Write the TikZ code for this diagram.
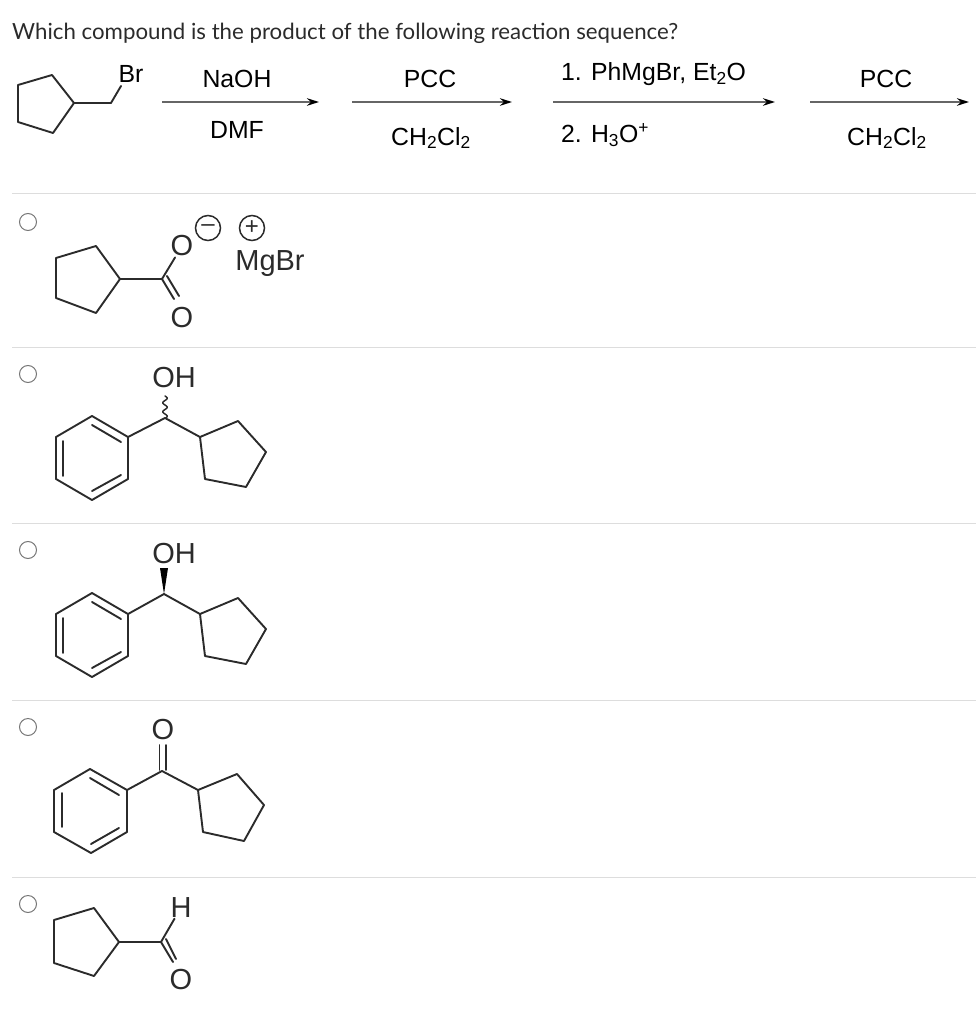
\documentclass[tikz,border=0pt]{standalone}
\usepackage{fontspec}
\usetikzlibrary{arrows.meta}
\setmainfont{Liberation Sans}
\newfontfamily\latofont{Lato}
\definecolor{inkc}{HTML}{2B2B2B}
\definecolor{rulec}{HTML}{DDDDDD}
\definecolor{radioc}{HTML}{777777}
\definecolor{arrowc}{HTML}{666666}
\tikzset{
	bond/.style={draw=inkc,line width=1.9pt,line join=round,line cap=round},
	rxn/.style={draw=arrowc,line width=2pt,-{Stealth[length=12pt,width=7.5pt,color=black]}},
	sepline/.style={draw=rulec,line width=1pt},
	radio/.style={circle,draw=radioc,line width=1pt,minimum size=17pt,inner sep=0pt,fill=white},
	reag/.style={inner sep=0pt,text=black,font=\fontsize{24.8}{28}\selectfont},
	atom/.style={inner sep=1pt,text=inkc,font=\fontsize{29}{32}\selectfont},
	charge/.style={circle,draw=inkc,line width=1.5pt,minimum size=25pt,inner sep=0pt,text=inkc,font=\fontsize{24}{26}\selectfont}
}
\begin{document}
\begin{tikzpicture}[x=1pt,y=-1pt,>=stealth]
	\useasboundingbox (0,0) rectangle (978,1024);
	\node[anchor=west,inner sep=0pt,text=inkc,font=\latofont\fontsize{22.25}{26}\selectfont] (question) at (12,33) {Which compound is the product of the following reaction sequence?};
	% separators and radio buttons
	\foreach \n/\y in {1/194,2/347,3/523,4/700,5/877}{
		\coordinate (sl\n) at (12,\y);
		\coordinate (sr\n) at (976,\y);
		\draw[sepline] (sl\n)--(sr\n);
	}
	\foreach \n/\y in {1/222,2/374,3/550,4/727,5/904}
		\node[radio] (radio\n) at (28,\y) {};
	% starting material
	\draw[bond] (52,75)--(18,85)--(18,122)--(53,133)--(74,103)--cycle;
	\node[reag] (br) at (131,74) {Br};
	\draw[bond] (74,103)--(111,103)--(121,86);
	% reaction arrows
	\coordinate (a1) at (162,102); \coordinate (b1) at (319,102);
	\coordinate (a2) at (352,102); \coordinate (b2) at (512,102);
	\coordinate (a3) at (553,102); \coordinate (b3) at (775,102);
	\coordinate (a4) at (810,102); \coordinate (b4) at (969,102);
	\foreach \n in {1,2,3,4}
		\draw[rxn] (a\n)--(b\n);
	\node[reag] (naoh) at (237,79) {NaOH};
	\node[reag] (dmf) at (237,130) {DMF};
	\node[reag] (pcca) at (430,79) {PCC};
	\node[reag] (cla) at (431,138) {CH\textsubscript{2}Cl\textsubscript{2}};
	\node[reag,anchor=west] (grig) at (561,74) {1. PhMgBr, Et\textsubscript{2}O};
	\node[reag,anchor=west] (acid) at (561,135) {2. H\textsubscript{3}O\textsuperscript{+}};
	\node[reag] (pccb) at (886,79) {PCC};
	\node[reag] (clb) at (887,138) {CH\textsubscript{2}Cl\textsubscript{2}};
	% option 1
	\draw[bond] (96,246)--(56,258)--(56,298)--(96,313)--(120,279)--cycle;
	\node[atom] (o1a) at (182,246) {O};
	\node[atom] (o1b) at (182,318) {O};
	\node[charge] (minus) at (208,228) {–};
	\node[charge] (plus) at (252,228) {+};
	\node[atom] (mg) at (270,264) {MgBr};
	\coordinate (c1) at (162,279);
	\draw[bond] (120,279)--(c1)--(o1a);
	\draw[bond] (c1)--(174,299) (167,276)--(179,296);
	% option 2
	\draw[bond] (92,416)--(128,437)--(128,479)--(92,500)--(56,479)--(56,437)--cycle;
	\draw[bond] (92,425)--(121,442) (63,441)--(63,476) (92,491)--(121,475);
	\draw[bond] (200,437)--(238,421)--(266,452)--(246,487)--(205,479)--cycle;
	\node[atom] (oh2) at (174,377.5) {OH};
	\coordinate (c2) at (165,418);
	\draw[bond] (128,437)--(c2)--(200,437);
	\draw[bond,line width=1.5pt,samples=50,smooth,domain=0:22] plot({165+2.2*sin(\x*40)},{396+\x});
	% option 3
	\draw[bond] (92,593)--(128,614)--(128,656)--(92,677)--(56,656)--(56,614)--cycle;
	\draw[bond] (92,602)--(121,619) (63,618)--(63,653) (92,668)--(121,652);
	\draw[bond] (200,614)--(238,598)--(266,629)--(246,664)--(205,656)--cycle;
	\node[atom] (oh3) at (174,553.5) {OH};
	\coordinate (c3) at (164,594);
	\draw[bond] (128,614)--(c3)--(200,614);
	\fill[black] (c3)--(160,568)--(168,568)--cycle;
	% option 4
	\draw[bond] (90,769)--(127,790)--(127,832)--(91,853)--(54,832)--(54,790)--cycle;
	\draw[bond] (90,778)--(119,795) (62,793)--(62,827) (91,844)--(119,828);
	\draw[bond] (198,790)--(237,774)--(264,805)--(244,841)--(203,832)--cycle;
	\node[atom] (o4) at (163,730) {O};
	\coordinate (c4) at (162,771);
	\draw[bond] (127,790)--(c4)--(198,790);
	\draw[bond] (159.5,745)--(159.5,770) (166,745)--(166,770);
	% option 5
	\draw[bond] (94,908)--(54,920)--(54,963)--(94,976)--(119,942)--cycle;
	\node[atom] (h5) at (181,907.5) {H};
	\node[atom] (o5) at (181,980) {O};
	\coordinate (c5) at (161,942);
	\draw[bond] (119,942)--(c5)--(h5);
	\draw[bond] (c5)--(173,962) (166,939)--(176,959);
\end{tikzpicture}
\end{document}
